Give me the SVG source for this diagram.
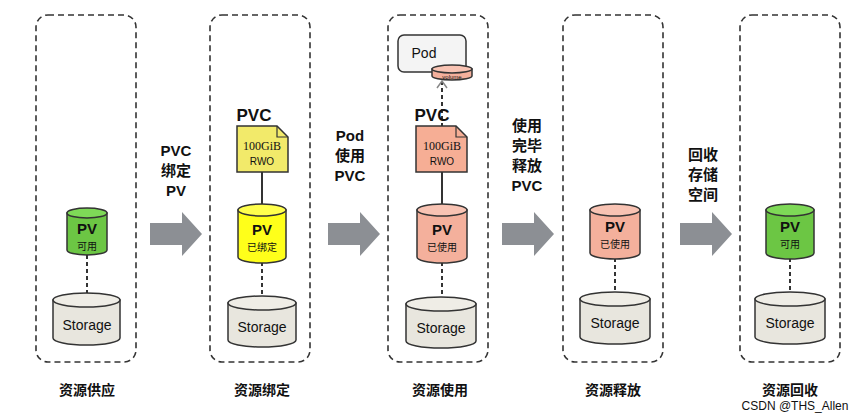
<svg xmlns="http://www.w3.org/2000/svg" width="863" height="417" viewBox="0 0 863 417">
<defs>
<style>
.panel{fill:none;stroke:#333;stroke-width:1.6;stroke-dasharray:6,4}
.cyl{stroke:#333;stroke-width:1.5}
.t{font-family:"Liberation Sans","Noto Sans CJK SC",sans-serif;fill:#111;text-anchor:middle}
.b{font-weight:bold}
.arrow{fill:#8c8f94}
.dash{stroke:#333;stroke-width:2;stroke-dasharray:4,3}
.solid{stroke:#333;stroke-width:2}
.doc{stroke:#333;stroke-width:1.5}
</style>
</defs>
<rect width="863" height="417" fill="#fff"/>
<g id="panels">
<rect class="panel" x="36" y="15" width="100" height="347" rx="12"/>
<rect class="panel" x="210" y="15" width="100" height="347" rx="12"/>
<rect class="panel" x="388" y="15" width="100" height="347" rx="12"/>
<rect class="panel" x="563" y="15" width="100" height="347" rx="12"/>
<rect class="panel" x="740" y="15" width="100" height="347" rx="12"/>
</g>
<g id="connectors">
<line class="dash" x1="87" y1="255" x2="87" y2="295"/>
<line class="solid" x1="262" y1="172" x2="262" y2="205"/>
<line class="dash" x1="262" y1="262" x2="262" y2="296"/>
<line class="dash" x1="442" y1="127" x2="442" y2="82" stroke="#888"/>
<path d="M437 88 L442 81 L447 88" fill="none" stroke="#888" stroke-width="1.5"/>
<line class="solid" x1="442" y1="172" x2="442" y2="205"/>
<line class="dash" x1="442" y1="262" x2="442" y2="298"/>
<line class="dash" x1="615" y1="258" x2="615" y2="293"/>
<line class="dash" x1="790" y1="258" x2="790" y2="293"/>
</g>
<g id="arrows">
<polygon class="arrow" points="150,223 182,223 182,212 202,234 182,256 182,245 150,245"/>
<polygon class="arrow" points="328,223 360,223 360,212 380,234 360,256 360,245 328,245"/>
<polygon class="arrow" points="502,223 534,223 534,212 554,234 534,256 534,245 502,245"/>
<polygon class="arrow" points="680,223 712,223 712,212 732,234 712,256 712,245 680,245"/>
<text class="t b" font-size="15" x="176" y="156">PVC</text>
<text class="t b" font-size="15" x="176" y="176">绑定</text>
<text class="t b" font-size="15" x="176" y="196">PV</text>
<text class="t b" font-size="15" x="350" y="141">Pod</text>
<text class="t b" font-size="15" x="350" y="161">使用</text>
<text class="t b" font-size="15" x="350" y="181">PVC</text>
<text class="t b" font-size="15" x="527" y="131">使用</text>
<text class="t b" font-size="15" x="527" y="151">完毕</text>
<text class="t b" font-size="15" x="527" y="171">释放</text>
<text class="t b" font-size="15" x="527" y="191">PVC</text>
<text class="t b" font-size="15" x="703" y="160">回收</text>
<text class="t b" font-size="15" x="703" y="180">存储</text>
<text class="t b" font-size="15" x="703" y="200">空间</text>
</g>
<g id="supply">
<path class="cyl" fill="#6cc644" d="M67 213 V250 A20 5 0 0 0 107 250 V213 Z"/>
<ellipse class="cyl" fill="#7ed957" cx="87" cy="213" rx="20" ry="5"/>
<text class="t b" font-size="15" x="87" y="234">PV</text>
<text class="t" font-size="10" x="87" y="250">可用</text>
<path class="cyl" fill="#e8e6de" d="M53 300 V338 A33.5 7 0 0 0 120 338 V300 Z"/>
<ellipse class="cyl" fill="#efede6" cx="86.5" cy="300" rx="33.5" ry="7"/>
<text class="t" font-size="14" x="87" y="330">Storage</text>
</g>
<g id="bind">
<text class="t b" font-size="17" x="254" y="121">PVC</text>
<path class="doc" fill="#f2ea6a" d="M237 126 H277 L288 137 V172 H237 Z"/>
<path d="M277 126 V137 H288" fill="none" stroke="#333" stroke-width="1.2"/>
<text x="262" y="150" font-family="Liberation Serif,serif" font-size="12" text-anchor="middle" fill="#111">100GiB</text>
<text class="t" font-size="10" x="262" y="165" fill="#444">RWO</text>
<path class="cyl" fill="#ffff1a" d="M238 210 V257 A24 6 0 0 0 286 257 V210 Z"/>
<ellipse class="cyl" fill="#ffff4d" cx="262" cy="210" rx="24" ry="6"/>
<text class="t b" font-size="15" x="262" y="235">PV</text>
<text class="t" font-size="10" x="262" y="251">已绑定</text>
<path class="cyl" fill="#e8e6de" d="M228 303 V340 A34 7 0 0 0 296 340 V303 Z"/>
<ellipse class="cyl" fill="#efede6" cx="262" cy="303" rx="34" ry="7"/>
<text class="t" font-size="14" x="262" y="332">Storage</text>
</g>
<g id="use">
<rect x="398" y="35" width="68" height="37" rx="6" fill="#f4f4f4" stroke="#333" stroke-width="1.5"/>
<text class="t" font-size="14" x="424" y="58" fill="#333">Pod</text>
<path class="cyl" fill="#f4b09c" d="M432 69 V76 A20 4 0 0 0 472 76 V69 Z" stroke-width="1"/>
<ellipse class="cyl" fill="#f8c3b3" cx="452" cy="69" rx="20" ry="4" stroke-width="1"/>
<text class="t" font-size="6" x="452" y="79">volume</text>
<text class="t b" font-size="17" x="432" y="121">PVC</text>
<path class="doc" fill="#f6ae95" d="M416 126 H456 L467 137 V172 H416 Z"/>
<path d="M456 126 V137 H467" fill="none" stroke="#333" stroke-width="1.2"/>
<text x="442" y="150" font-family="Liberation Serif,serif" font-size="12" text-anchor="middle" fill="#111">100GiB</text>
<text class="t" font-size="10" x="442" y="165" fill="#444">RWO</text>
<path class="cyl" fill="#f4b09c" d="M417 210 V257 A25 6 0 0 0 467 257 V210 Z"/>
<ellipse class="cyl" fill="#f8c3b3" cx="442" cy="210" rx="25" ry="6"/>
<text class="t b" font-size="15" x="442" y="235">PV</text>
<text class="t" font-size="10" x="442" y="251">已使用</text>
<path class="cyl" fill="#e8e6de" d="M406 304 V341 A35 7 0 0 0 476 341 V304 Z"/>
<ellipse class="cyl" fill="#efede6" cx="441" cy="304" rx="35" ry="7"/>
<text class="t" font-size="14" x="441" y="333">Storage</text>
</g>
<g id="release">
<path class="cyl" fill="#f4b09c" d="M590 210 V253 A25 6 0 0 0 640 253 V210 Z"/>
<ellipse class="cyl" fill="#f8c3b3" cx="615" cy="210" rx="25" ry="6"/>
<text class="t b" font-size="15" x="615" y="232">PV</text>
<text class="t" font-size="10" x="615" y="248">已使用</text>
<path class="cyl" fill="#e8e6de" d="M580 299 V337 A35 7 0 0 0 650 337 V299 Z"/>
<ellipse class="cyl" fill="#efede6" cx="615" cy="299" rx="35" ry="7"/>
<text class="t" font-size="14" x="615" y="328">Storage</text>
</g>
<g id="reclaim">
<path class="cyl" fill="#6cc644" d="M766 210 V253 A24 6 0 0 0 814 253 V210 Z"/>
<ellipse class="cyl" fill="#7ed957" cx="790" cy="210" rx="24" ry="6"/>
<text class="t b" font-size="15" x="790" y="232">PV</text>
<text class="t" font-size="10" x="790" y="248">可用</text>
<path class="cyl" fill="#e8e6de" d="M755 299 V337 A35 7 0 0 0 825 337 V299 Z"/>
<ellipse class="cyl" fill="#efede6" cx="790" cy="299" rx="35" ry="7"/>
<text class="t" font-size="14" x="790" y="328">Storage</text>
</g>
<g id="labels">
<text class="t b" font-size="14" x="87" y="395">资源供应</text>
<text class="t b" font-size="14" x="262" y="395">资源绑定</text>
<text class="t b" font-size="14" x="440" y="395">资源使用</text>
<text class="t b" font-size="14" x="613" y="395">资源释放</text>
<text class="t b" font-size="14" x="790" y="395">资源回收</text>
<text class="t" font-size="12" x="795" y="410" fill="#999">CSDN @THS_Allen</text>
</g>
</svg>
